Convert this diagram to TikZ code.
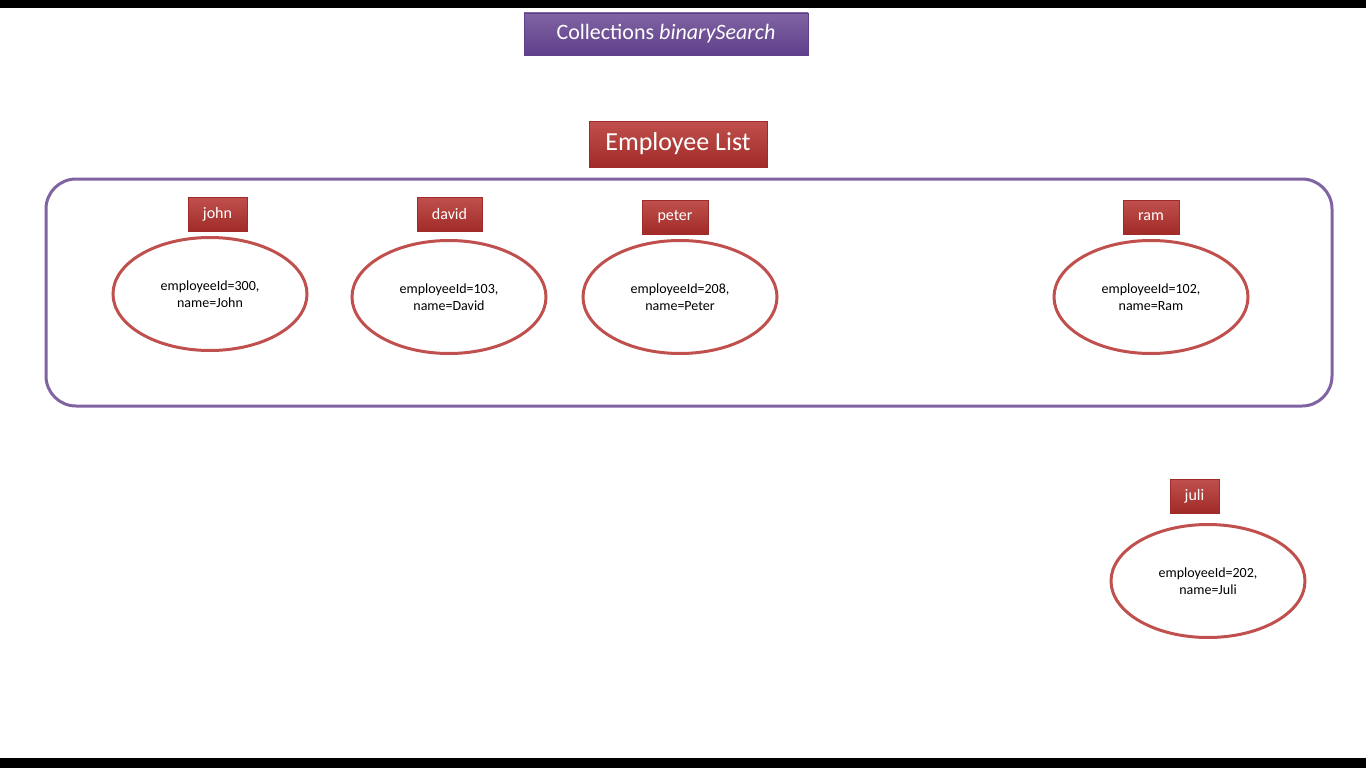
\documentclass[tikz,border=0pt]{standalone}
\usepackage{fontspec}
\setmainfont{Carlito}
\usepackage{tikz}
\usetikzlibrary{positioning,shapes.geometric}
\definecolor{EmpRed}{HTML}{C0504D}
\definecolor{DarkRed}{HTML}{A02B28}
\definecolor{ListPurple}{HTML}{8064A2}
\definecolor{DarkPurple}{HTML}{5F3F8C}

\begin{document}
\begin{tikzpicture}[x=1pt,y=-1pt]
  \tikzset{tag/.style = {shape = rectangle, top color = EmpRed, bottom color = DarkRed, draw = DarkRed, text = white, font = \fontsize{16}{18}\selectfont, minimum height = 34pt, inner xsep = 6pt}}
  \tikzset{record/.style = {shape = ellipse, draw = EmpRed, line width = 3pt, minimum width = 194pt, minimum height = 113pt, align = center, font = \fontsize{14}{17}\selectfont}}

  \useasboundingbox (0,0) rectangle (1366,768);
  \fill[black] (0,0) rectangle (1366,8);
  \fill[black] (0,758) rectangle (1366,768);

  \node[shape = rectangle, top color = ListPurple, bottom color = DarkPurple, draw = DarkPurple, text = white, minimum width = 284pt, minimum height = 42pt, font = \fontsize{22}{25}\selectfont] (Title) at (666,34) {Collections \textit{binarySearch}};
  \node[tag, minimum width = 178pt, minimum height = 46pt, font = \fontsize{26}{29}\selectfont] (ListTitle) at (678,144) {Employee List};

  \draw[ListPurple, line width = 3pt, rounded corners = 30pt] (46,179) rectangle (1332,406);

  \node[record] (John) at (210,294) {employeeId=300,\\name=John};
  \node[tag, minimum width = 59pt] (JohnTag) at (217.5,214) {john};
  \node[record] (David) at (449,297) {employeeId=103,\\name=David};
  \node[tag, minimum width = 65pt] (DavidTag) at (449.5,214) {david};
  \node[record] (Peter) at (680,297) {employeeId=208,\\name=Peter};
  \node[tag, minimum width = 66pt] (PeterTag) at (675,217) {peter};
  \node[record] (Ram) at (1151,297) {employeeId=102,\\name=Ram};
  \node[tag, minimum width = 56pt] (RamTag) at (1151,217) {ram};

  \node[record] (Juli) at (1208,581) {employeeId=202,\\name=Juli};
  \node[tag, minimum width = 49pt] (JuliTag) at (1194.5,496) {juli};
\end{tikzpicture}
\end{document}
